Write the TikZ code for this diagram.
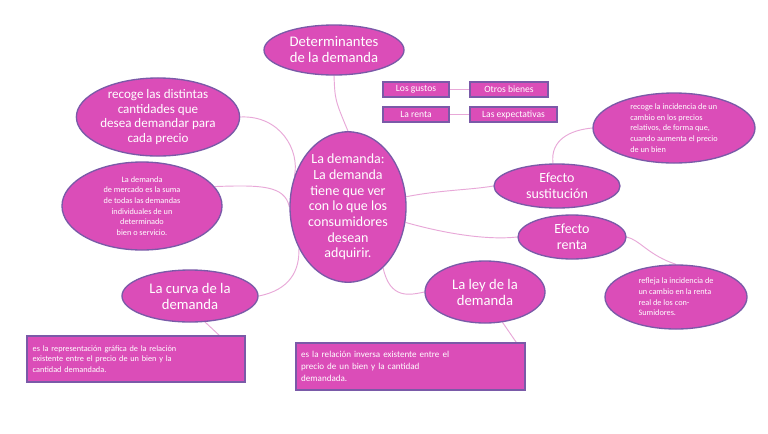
\documentclass[tikz,border=0pt]{standalone}
\usepackage{fontspec}
\setmainfont{Carlito}
\usetikzlibrary{shapes.geometric}
\pgfdeclarelayer{bg}
\pgfsetlayers{bg,main}
\begin{document}
\begin{tikzpicture}[x=0.75pt,y=-0.75pt,
 el/.style={ellipse,fill=magfill,draw=bord,line width=1pt,text=white,align=center,inner sep=0pt},
 bx/.style={rectangle,fill=magfill,draw=bord,line width=1pt,text=white,inner sep=0pt},
 ln/.style={draw=linec,line width=0.7pt},
 sz/.style 2 args={minimum width=#1*0.75pt,minimum height=#2*0.75pt}]
\definecolor{magfill}{HTML}{DB4DB8}
\definecolor{bord}{HTML}{7A5AA8}
\definecolor{linec}{HTML}{E8A8D8}
\begin{pgfonlayer}{bg}
\useasboundingbox[fill=white] (0,0) rectangle (768,433);
\end{pgfonlayer}
\node[el,sz={140}{50},font=\fontsize{11}{12}\selectfont] (det) at (334,50) {Determinantes\\de la demanda};
\node[el,sz={152}{76},font=\fontsize{9.8}{11}\selectfont] (rec) at (158,117) {recoge las distintas\\cantidades que\\desea demandar para\\cada precio};
\node[el,sz={160}{88},font=\fontsize{6.2}{8}\selectfont] (mer) at (142,206) {La demanda\\de mercado es la suma\\de todas las demandas\\individuales de un\\determinado\\bien o servicio.};
\node[el,sz={116}{126},font=\fontsize{10.5}{11.8}\selectfont] (c) at (348,207) {La demanda:\\La demanda\\tiene que ver\\con lo que los\\consumidores\\desean\\adquirir.};
\node[el,sz={136}{52},font=\fontsize{11}{12}\selectfont] (cur) at (190,296) {La curva de la\\demanda};
\node[bx,sz={218}{46},align=left,text width=155pt,font=\fontsize{6.2}{8}\selectfont] (bcur) at (136,359) {es la representación gráfica de la relación\\existente entre el precio de un bien y la\\cantidad demandada.};
\node[bx,sz={229}{47},align=left,text width=164pt,font=\fontsize{6.8}{9}\selectfont] (bley) at (410.5,366.5) {es la relación inversa existente entre el\\precio de un bien y la cantidad\\demandada.};
\node[el,sz={120}{62},font=\fontsize{11}{12}\selectfont] (ley) at (485,292) {La ley de la\\demanda};
\node[el,sz={126}{44},font=\fontsize{10.5}{11.8}\selectfont] (sus) at (557,186) {Efecto\\sustitución};
\node[el,sz={108}{44},font=\fontsize{10.5}{11.8}\selectfont] (ren) at (572,237) {Efecto\\renta};
\node[el,sz={162}{70},align=left,font=\fontsize{6.2}{8}\selectfont] (inc) at (674,128) {recoge la incidencia de un\\cambio en los precios\\relativos, de forma que,\\cuando aumenta el precio\\de un bien};
\node[el,sz={142}{64},align=left,font=\fontsize{6.2}{8}\selectfont] (ref) at (676,297) {refleja la incidencia de\\un cambio en la renta\\real de los con-\\Sumidores.};
\node[bx,sz={66}{15},font=\fontsize{7.2}{8}\selectfont] (gus) at (416,89.5) {Los gustos};
\node[bx,sz={78}{15},font=\fontsize{7.2}{8}\selectfont] (otr) at (509,89.5) {Otros bienes};
\node[bx,sz={66}{15},font=\fontsize{7.2}{8}\selectfont] (rnt) at (416,114.5) {La renta};
\node[bx,sz={87}{15},font=\fontsize{7.2}{8}\selectfont] (exp) at (513.5,114.5) {Las expectativas};
\begin{pgfonlayer}{bg}
\draw[ln] (gus) -- (otr);
\draw[ln] (rnt) -- (exp);
\draw[ln] (det.south) .. controls (335,100) .. (c.north);
\draw[ln] (rec.east) .. controls (280,115) and (300,150) .. (c.150);
\draw[ln] (mer.15) .. controls (260,185) and (285,185) .. (c.west);
\draw[ln] (cur.east) .. controls (290,290) and (300,270) .. (c.220);
\draw[ln] (cur.300) -- (235,350) -- (bcur.east |- 0,350);
\draw[ln] (c.300) .. controls (390,300) and (410,295) .. (ley.west);
\draw[ln] (ley.300) -- (525,355) -- (bley.east |- 0,355);
\draw[ln] (c.10) .. controls (440,190) and (470,190) .. (sus.west);
\draw[ln] (sus.100) .. controls (550,140) and (570,130) .. (inc.west);
\draw[ln] (c.345) .. controls (450,235) and (490,240) .. (ren.west);
\draw[ln] (ren.east) .. controls (640,240) and (648,255) .. (ref.north);
\end{pgfonlayer}
\end{tikzpicture}
\end{document}
